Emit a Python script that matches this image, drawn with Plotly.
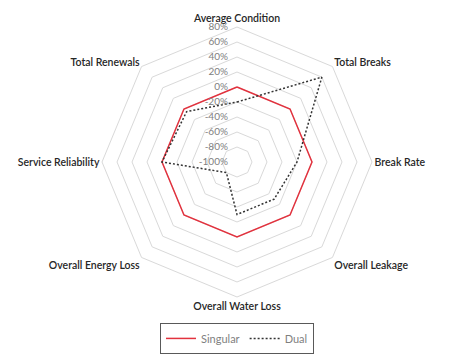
import plotly.graph_objects as go

categories = ["Average Condition", "Total Breaks", "Break Rate", "Overall Leakage",
              "Overall Water Loss", "Overall Energy Loss", "Service Reliability", "Total Renewals"]
singular = [0, 0, 0, 0, 0, 0, 0, 0]
dual = [-20, 60, -20, -30, -30, -80, 0, -5]
tick_vals = [-100, -80, -60, -40, -20, 0, 20, 40, 60, 80]
tick_text = [f"{v}%" for v in tick_vals]

def closed(seq):
    return list(seq) + [seq[0]]

fig = go.Figure()
fig.add_trace(go.Scatterpolar(r=closed(singular), theta=closed(categories), mode="lines",
                              name="Singular", line=dict(color="#e2323e", width=1.5)))
fig.add_trace(go.Scatterpolar(r=closed(dual), theta=closed(categories), mode="lines",
                              name="Dual", line=dict(color="#333333", width=1.5, dash="2px,2px")))

fig.update_layout(
    width=474, height=355,
    margin=dict(l=0, r=0, t=27, b=58, autoexpand=False),
    paper_bgcolor="white",
    font=dict(family="Lato", size=11, color="#333333"),
    polar=dict(
        bgcolor="white",
        gridshape="linear",
        angularaxis=dict(direction="clockwise", rotation=90, showgrid=False,
                         showline=True, linecolor="#d9d9d9", linewidth=1,
                         ticks="", tickfont=dict(family="Lato", size=10.5, color="#262626", weight=600)),
        radialaxis=dict(range=[-100, 80], tickvals=tick_vals, ticktext=tick_text,
                        angle=90, tickangle=90, side="counterclockwise", showline=False,
                        ticks="outside", ticklen=5, tickcolor="rgba(0,0,0,0)",
                        gridcolor="#d9d9d9", gridwidth=1,
                        tickfont=dict(family="Lato", size=10, color="#808080")),
    ),
    legend=dict(orientation="h", x=0.5, xanchor="center", y=-0.096, yanchor="top",
                bordercolor="#595959", borderwidth=1, itemwidth=30,
                font=dict(family="Lato", size=11, color="#7f7f7f")),
)

fig.write_html("out.html", config={"displayModeBar": False},
               post_script="document.body.style.margin='0';")
